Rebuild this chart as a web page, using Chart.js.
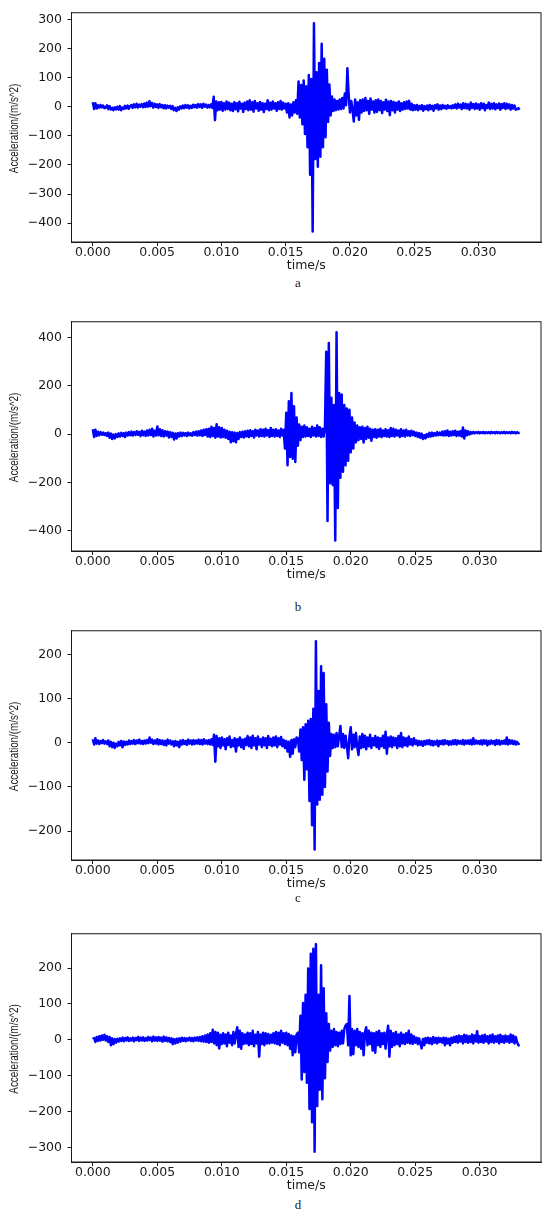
<!DOCTYPE html>
<html>
<head>
<meta charset="utf-8">
<script src="https://cdn.jsdelivr.net/npm/chart.js@4.4.1/dist/chart.umd.min.js"></script>
<style>
  body { margin: 0; background: #fff; width: 550px; height: 1218px; position: relative; overflow: hidden; }
  .panel { position: absolute; left: 0; width: 550px; }
  .cap { position: absolute; left: 248px; width: 100px; text-align: center; color: #1a1a1a;
         font: 13px "Liberation Serif", "DejaVu Serif", serif; line-height: 16px; }
</style>
</head>
<body>
<div class="panel" id="boxA"><canvas id="chartA"></canvas></div>
<div class="panel" id="boxB"><canvas id="chartB"></canvas></div>
<div class="panel" id="boxC"><canvas id="chartC"></canvas></div>
<div class="panel" id="boxD"><canvas id="chartD"></canvas></div>
<div class="cap" style="top:275px">a</div>
<div class="cap" style="top:599px">b</div>
<div class="cap" style="top:890px">c</div>
<div class="cap" style="top:1197px">d</div>
<script>
// sample step (s)
const dt = 0.0001;

const xTicks = [0, 0.005, 0.01, 0.015, 0.02, 0.025, 0.03];
const yTicksA = [-400, -300, -200, -100, 0, 100, 200, 300];
const yTicksB = [-400, -200, 0, 200, 400];
const yTicksC = [-200, -100, 0, 100, 200];
const yTicksD = [-300, -200, -100, 0, 100, 200];

// acceleration samples, one row = 1 ms
const accA = [
  15, -8, 12, -6, 5, -3, 6, -2, 4, -5,
  -3, 5, -8, 2, -10, -4, -12, -2, -9, 0,
  -10, 2, -12, -3, -8, 3, -6, 4, -7, 2,
  6, -4, 8, -2, 10, -3, 7, 0, 9, -2,
  11, -1, 14, 0, 19, 2, 13, -3, 10, -1,
  8, -4, 9, -2, 6, -5, 5, -6, 4, -3,
  3, -8, 2, -12, -4, -15, -2, -10, 1, -6,
  4, -5, 6, -3, 5, -6, 3, -4, 7, -2,
  6, -3, 9, -1, 8, -4, 10, 0, 7, -3,
  6, -2, 8, -4, 34, -46, 18, -12, 15, -10,
  16, -14, 12, -10, 18, -8, 14, -12, 10, -15,
  15, -9, 12, -16, 17, -6, 10, -18, 14, -8,
  18, -12, 22, -10, 15, -17, 20, -6, 12, -14,
  16, -10, 12, -18, 10, -8, 22, -12, 14, -10,
  18, -6, 12, -14, 15, -8, 20, -10, 14, -6,
  10, -20, 12, -37, 8, -30, 15, -20, 22, -25,
  87, -37, 75, -60, 90, -94, 70, -139, 109, -234,
  95, -429, 287, -180, 118, -206, 150, -172, 216, -139,
  165, -105, 127, -52, 76, -30, 35, -15, 25, -12,
  20, -10, 25, -8, 30, -6, 45, 5, 132, 40,
  -20, 20, -10, -51, 25, -30, 15, -45, 22, -20,
  25, -15, 30, -12, 20, -25, 28, -10, 18, -20,
  22, -18, 25, -12, 20, -22, 15, -10, 24, -15,
  18, -29, 20, -12, 16, -20, 14, -10, 18, -15,
  12, -10, 15, -8, 18, -6, 20, -10, 10, -12,
  5, -10, 6, -12, 3, -8, 5, -14, 2, -9,
  4, -12, 6, -8, 3, -14, 5, -6, 8, -10,
  4, -8, 6, -5, 3, -7, 5, -4, 2, -6,
  5, -4, 8, -6, 10, -3, 7, -8, 12, -5,
  10, -6, 8, -10, 14, -4, 9, -8, 11, -6,
  8, -10, 12, -5, 10, -12, 6, -4, 14, -8,
  10, -6, 12, -9, 8, -5, 11, -10, 9, -4,
  12, -8, 10, -5, 8, -10, 6, -6, 4, -10,
  -8, -5, -10
];

const accB = [
  20, -12, 18, -8, 10, -5, 8, -3, 6, -4,
  4, -8, 6, -15, 2, -20, -2, -18, 0, -12,
  3, -10, 5, -8, 4, -12, 6, -6, 8, -5,
  10, -6, 8, -4, 12, -3, 9, -8, 14, -5,
  10, -8, 15, -6, 18, -4, 22, -10, 14, -6,
  31, -5, 20, -8, 16, -10, 12, -6, 10, -14,
  8, -12, 5, -22, 2, -18, 4, -10, 6, -8,
  5, -6, 4, -8, 6, -5, 3, -7, 8, -4,
  10, -6, 12, -5, 15, -8, 18, -4, 20, -10,
  22, -12, 30, -8, 25, -15, 41, -10, 28, -14,
  25, -12, 18, -15, 14, -20, 10, -34, 8, -30,
  6, -34, 4, -20, 8, -12, 10, -14, 12, -10,
  14, -12, 16, -8, 12, -14, 18, -6, 15, -10,
  20, -8, 18, -10, 22, -6, 16, -12, 25, -8,
  18, -10, 20, -8, 15, -12, 22, -6, 18, -60,
  88, -129, 136, -95, 170, -102, 115, -115, 68, -48,
  40, -25, 30, -12, 35, -10, 28, -8, 22, -12,
  30, -6, 25, -10, 35, -8, 28, -12, 22, -10,
  30, 340, -359, 376, -203, 150, -210, 120, -440, 421,
  -305, 170, -180, 163, -156, 120, -129, 106, -110, 100,
  -75, 68, -60, 48, -34, 35, -25, 28, -20, 30,
  -35, 25, -20, 30, -15, 22, -28, 18, -12, 20,
  -15, 18, -10, 22, -12, 15, -8, 20, -10, 16,
  -12, 25, -8, 22, -10, 18, -6, 15, -12, 20,
  -8, 15, -10, 18, -6, 12, -8, 14, -5, 10,
  -8, 6, -12, 4, -15, 2, -20, -5, -18, 0,
  -12, 5, -10, 6, -8, 4, -6, 8, -5, 6,
  -4, 10, -6, 12, -5, 15, -8, 10, -6, 12,
  -4, 14, -8, 10, -6, 12, -10, 27, -18, 15,
  -5, 12, -2, 8, 2, 9, 3, 8, 4, 9,
  3, 8, 4, 9, 3, 8, 4, 8, 3, 9,
  4, 8, 3, 9, 4, 8, 3, 8, 4, 9,
  3, 8, 4, 8, 3, 9, 4, 8, 3, 8,
  4, 6
];

const accC = [
  8, -4, 10, -2, 5, -3, 4, -1, 6, -2,
  3, -3, 5, -8, 2, -10, 0, -12, -2, -8,
  2, -6, 4, -10, 3, -5, 2, -4, 5, -3,
  4, -2, 6, -3, 5, -1, 7, -2, 4, -3,
  5, -2, 6, -1, 12, 0, 7, -3, 5, -2,
  8, -4, 6, -3, 5, -5, 4, -6, 7, -2,
  5, -4, 3, -8, 4, -6, 2, -10, 5, -4,
  6, -3, 4, -5, 7, -2, 5, -4, 6, -3,
  5, -2, 7, -3, 6, -4, 8, -2, 5, -3,
  6, -4, 8, -5, 18, -43, 15, -8, 10, -12,
  12, -6, 8, -15, 10, -5, 14, -10, 6, -8,
  10, -20, 8, -6, 12, -10, 7, -14, 9, -5,
  15, -8, 12, -12, 16, -6, 10, -15, 14, -4,
  8, -10, 12, -6, 10, -12, 15, -5, 9, -8,
  12, -6, 14, -10, 10, -4, 13, -8, 6, -12,
  4, -20, 2, -32, 6, -25, 8, -10, 12, 10,
  -20, 30, -39, 35, -84, 42, -60, 50, -132, 54,
  -187, 77, -242, 230, -140, 117, -129, 173, -118, 158,
  -100, 87, -65, 45, -30, 20, -12, 18, -10, 22,
  -8, 15, 38, -10, 20, -12, 16, -6, -35, 14,
  35, -15, 18, -10, 22, -8, -28, 14, -12, 20,
  -10, 16, -15, 12, -8, 18, -12, 10, -6, 15,
  -10, 12, -14, 10, -8, 16, -12, 25, -25, 12,
  -8, 14, -10, 12, -6, 10, -12, 15, -8, 22,
  -10, 12, -6, 10, -8, 14, -4, 8, -6, 10,
  -3, 5, -6, 4, -5, 3, -7, 4, -4, 5,
  -3, 6, -5, 4, -6, 3, -4, 5, -8, 4,
  -3, 5, -4, 6, -2, 4, -5, 3, -4, 5,
  -3, 6, -4, 5, -2, 4, -3, 6, -4, 5,
  -2, 5, -3, 6, -4, 10, -3, 5, -2, 4,
  -3, 5, -4, 6, -2, 5, -6, 4, -3, 5,
  -2, 4, -5, 6, -3, 5, -4, 4, -2, 5,
  -3, 12, -4, 6, -2, 5, -3, 4, -4, 2,
  -3, -1
];

const accD = [
  2, 5, -6, 8, -3, 10, -2, 12, 0, 14,
  -2, 10, -6, 8, -15, 4, -12, 2, -8, 3,
  -5, 4, -3, 6, -4, 5, -2, 7, -3, 4,
  -2, 6, -4, 5, -1, 8, -3, 6, -2, 7,
  -3, 5, -2, 8, -1, 6, -4, 9, -2, 7,
  -3, 8, -2, 6, -5, 9, -3, 7, -4, 5,
  -6, 4, -12, 2, -10, 3, -8, 4, -5, 6,
  -3, 5, -4, 4, -2, 6, -3, 5, -4, 6,
  -2, 7, -3, 8, -4, 10, -5, 12, -6, 15,
  -8, 18, -6, 28, -10, 22, -15, 20, -24, 14,
  -12, 18, -10, 15, -18, 20, -8, 12, -15, 22,
  -10, 16, 35, -20, 25, -25, 18, -12, 15, -10,
  20, -15, 18, -12, 25, -18, 14, -10, 22, -47,
  15, -12, 20, -15, 18, -10, 16, -10, 14, -8,
  18, -10, 22, -12, 20, -15, 25, -8, 18, -12,
  20, -15, 16, -25, 12, -43, 10, -35, 15, 20,
  -35, 67, -111, 103, -90, 126, -120, 199, -193, 240,
  -230, 254, -312, 267, -185, 126, -139, 208, -166, 144,
  -107, 74, -62, 44, -30, 25, -20, 30, -15, 22,
  -18, 20, -12, 25, -10, 30, 40, 44, -15, 122,
  -43, 30, -40, 25, -15, 30, -20, 22, -25, 18,
  -43, 20, 35, -15, 25, -12, 20, -30, 18, -36,
  22, -15, 25, -20, 18, -12, 20, -25, 15, 39,
  -47, 25, -20, 18, -15, 22, -12, 15, -18, 20,
  -10, 15, -12, 18, -8, 25, -10, 15, -12, 10,
  -8, 6, -12, 4, -10, -24, 2, -15, 5, -8,
  6, -10, 4, -12, 8, -8, 5, -10, 6, -6,
  4, -8, 6, -15, 5, -10, 3, -15, 6, -8,
  8, -6, 10, -8, 12, -5, 10, -10, 14, -6,
  12, -8, 10, -6, 15, -10, 12, -5, 24, -8,
  10, -6, 12, -8, 14, -5, 10, -10, 12, -6,
  15, -8, 10, -5, 12, -10, 14, -6, 10, -8,
  12, -5, 10, -8, 15, -6, 12, -10, 8, -6,
  -15, -17
];

const ink = "#1a1a1a";
const tickFont = { family: "DejaVu Sans", size: 12.5, lineHeight: 1 };
const yTitle = "Acceleration/(m/s^2)";

// full box round the plot, like matplotlib spines, plus a narrow y title
const frame = {
  id: "frame",
  afterDraw(chart) {
    const { ctx, chartArea: a } = chart;
    ctx.save();
    ctx.strokeStyle = ink;
    ctx.lineWidth = 1;
    ctx.strokeRect(a.left, a.top, a.right - a.left, a.bottom - a.top);
    // condensed look of the original y label
    ctx.translate(13.8, (a.top + a.bottom) / 2 + 1);
    ctx.rotate(-Math.PI / 2);
    ctx.scale(0.73, 1);
    ctx.fillStyle = ink;
    ctx.font = "13.5px 'Liberation Sans', Arial, sans-serif";
    ctx.textAlign = "center";
    ctx.textBaseline = "middle";
    ctx.fillText(yTitle, 0, 0);
    ctx.restore();
  },
};

function makeChart(boxId, canvasId, values, yTicks, plotTop, plotBottom) {
  const plotLeft = 71.5;
  const plotRight = 541;
  const boxTop = Math.floor(plotTop - 8);
  const padTop = plotTop - boxTop;
  const boxHeight = Math.round(plotBottom - boxTop + 30.5);
  const xAxisHeight = boxHeight - (plotBottom - boxTop);

  const box = document.getElementById(boxId);
  box.style.top = boxTop + "px";
  box.style.height = boxHeight + "px";

  const tEnd = (values.length - 1) * dt;
  const lo = Math.min(...values);
  const hi = Math.max(...values);
  const yPad = 0.05 * (hi - lo);

  return new Chart(document.getElementById(canvasId), {
    type: "line",
    data: {
      datasets: [
        {
          data: values.map((v, i) => ({ x: i * dt, y: v })),
          borderColor: "#0000ff",
          borderWidth: 2.5,
          borderJoinStyle: "round",
          pointRadius: 0,
          tension: 0,
          fill: false,
        },
      ],
    },
    options: {
      responsive: true,
      maintainAspectRatio: false,
      animation: false,
      events: [],
      layout: { padding: { top: padTop, right: 550 - plotRight, left: 0, bottom: 0 } },
      plugins: { legend: { display: false }, tooltip: { enabled: false } },
      scales: {
        x: {
          type: "linear",
          min: -0.05 * tEnd,
          max: tEnd * 1.05,
          afterBuildTicks: (s) => { s.ticks = xTicks.map((v) => ({ value: v })); },
          afterFit: (s) => { s.height = xAxisHeight; },
          ticks: {
            callback: (v) => v.toFixed(3),
            font: tickFont,
            color: ink,
            padding: 0,
            autoSkip: false,
            maxRotation: 0,
          },
          grid: { drawOnChartArea: false, tickLength: 4, tickColor: ink },
          border: { color: ink },
          title: {
            display: true,
            text: "time/s",
            color: ink,
            font: { family: "DejaVu Sans", size: 12.5 },
            padding: 0,
          },
        },
        y: {
          type: "linear",
          min: lo - yPad,
          max: hi + yPad,
          afterBuildTicks: (s) => { s.ticks = yTicks.map((v) => ({ value: v })); },
          afterFit: (s) => { s.width = plotLeft; },
          ticks: {
            callback: (v) => String(v).replace("-", "\u2212"),
            font: tickFont,
            color: ink,
            padding: 5.5,
          },
          grid: { drawOnChartArea: false, tickLength: 4, tickColor: ink },
          border: { color: ink },
        },
      },
    },
    plugins: [frame],
  });
}

makeChart("boxA", "chartA", accA, yTicksA, 9, 242);
makeChart("boxB", "chartB", accB, yTicksB, 318, 551);
makeChart("boxC", "chartC", accC, yTicksC, 627, 860);
makeChart("boxD", "chartD", accD, yTicksD, 930, 1162);
</script>
</body>
</html>
